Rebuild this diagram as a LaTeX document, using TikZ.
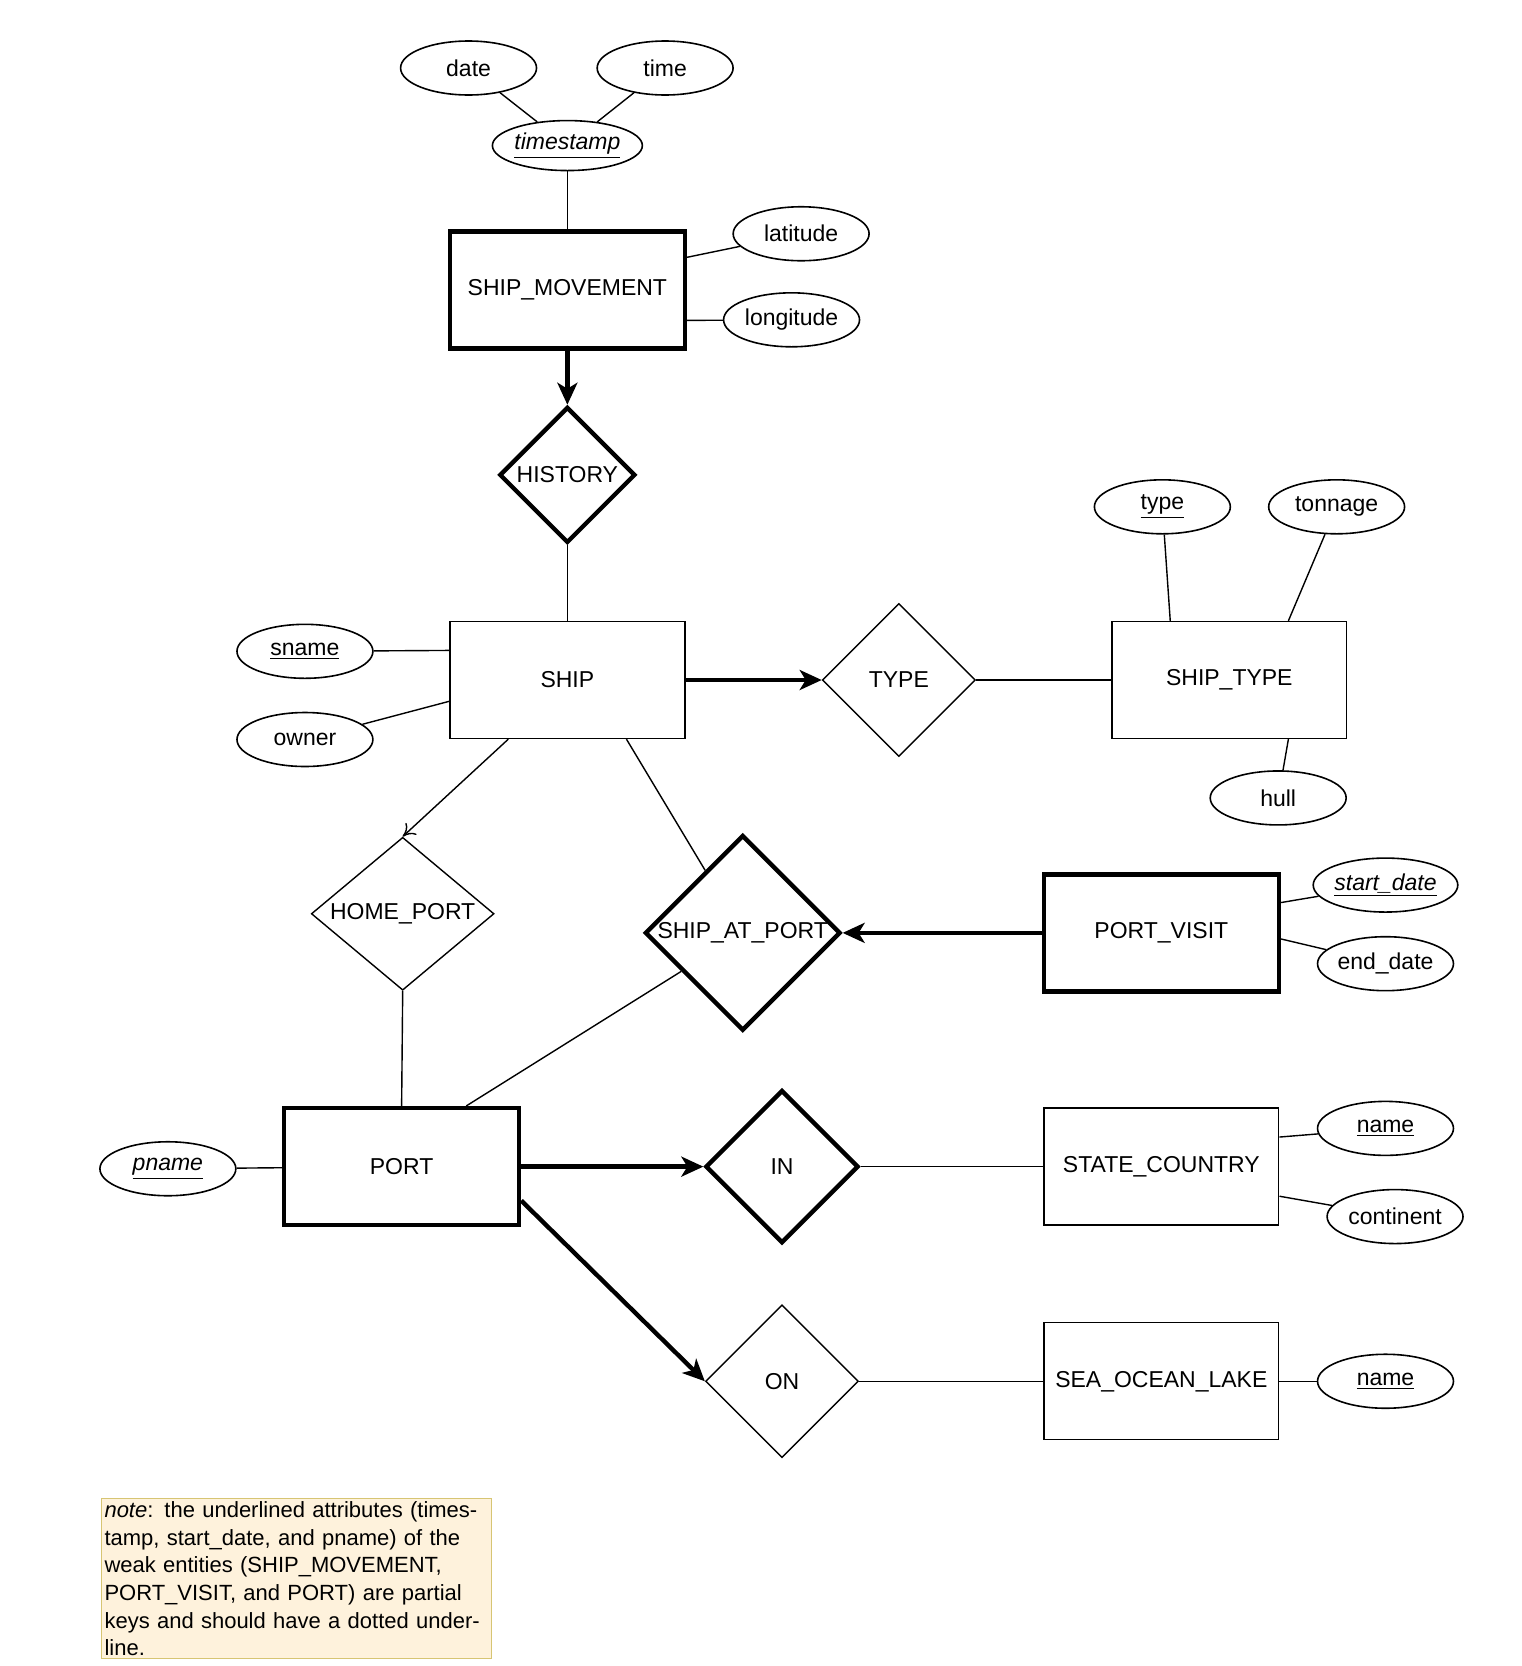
\documentclass[tikz,border=0pt]{standalone}
\usepackage{fontspec}
\setmainfont{Liberation Sans}
\usetikzlibrary{shapes.geometric,arrows.meta,calc}
\begin{document}
\begin{tikzpicture}[x=0.5315pt,y=-0.5315pt,
  every node/.style={font=\fontsize{11.5}{13}\selectfont},
  attr/.style={ellipse,draw,line width=0.8pt,minimum width=68pt,minimum height=27pt,inner sep=0pt},
  ent/.style={rectangle,draw,line width=0.7pt,minimum width=117.5pt,minimum height=58.5pt,inner sep=0pt},
  weak/.style={ent,line width=2.2pt},
  rel/.style={diamond,draw,line width=0.7pt,inner sep=0pt},
  wrel/.style={rel,line width=2.2pt},
  ln/.style={line width=0.7pt},
  thk/.style={line width=2.2pt,-{Stealth[length=11pt,width=10pt,inset=3pt]}}]
\useasboundingbox (0,0) rectangle (1432,1568);
% attributes
\node[attr] (date) at (441,64) {date};
\node[attr] (time) at (626,64) {time};
\node[attr,minimum height=25pt] (ts) at (534,137) {\textit{\underline{timestamp}}};
\node[attr] (lat) at (754,220) {latitude};
\node[attr] (lon) at (745,301) {longitude};
\node[attr] (sname) at (287,613) {\underline{sname}};
\node[attr] (owner) at (287,696) {owner};
\node[attr] (type) at (1094,477) {\underline{type}};
\node[attr] (ton) at (1258,477) {tonnage};
\node[attr] (hull) at (1203,751) {hull};
\node[attr] (sd) at (1304,833) {\textit{\underline{start\_date}}};
\node[attr] (ed) at (1304,907) {end\_date};
\node[attr] (pname) at (158,1100) {\textit{\underline{pname}}};
\node[attr] (name1) at (1304,1062) {\underline{name}};
\node[attr] (cont) at (1313,1145) {continent};
\node[attr] (name2) at (1304,1300) {\underline{name}};
% entities
\node[weak] (sm) at (534,273) {SHIP\_MOVEMENT};
\node[ent] (ship) at (534,640) {SHIP};
\node[ent] (st) at (1157,640) {SHIP\_TYPE};
\node[weak] (pv) at (1093,878) {PORT\_VISIT};
\node[weak] (port) at (378,1098) {PORT};
\node[ent] (sc) at (1093,1098) {STATE\_COUNTRY};
\node[ent] (sol) at (1093,1300) {SEA\_OCEAN\_LAKE};
% relationships
\node[wrel,minimum width=68pt,minimum height=68pt] (hist) at (534,447) {};
\node at (hist) {HISTORY};
\node[rel,minimum width=76.5pt,minimum height=76.5pt] (tr) at (846,640) {};
\node at (tr) {TYPE};
\node[rel,minimum width=91.4pt,minimum height=76.5pt] (hp) at (379,860) {};
\node at (hp) {HOME\_PORT};
\node[wrel,minimum width=97.8pt,minimum height=97.8pt] (sap) at (699,878) {};
\node at (sap) {SHIP\_AT\_PORT};
\node[wrel,minimum width=76.5pt,minimum height=76.5pt] (in) at (736,1098) {};
\node at (in) {IN};
\node[rel,minimum width=76.5pt,minimum height=76.5pt] (on) at (736,1300) {};
\node at (on) {ON};
% note
\node[draw=black!25!yellow!60!brown!70,fill=yellow!25!orange!12!white,line width=0.6pt,anchor=north west,inner sep=1.5pt,
  text width=192pt,align=left,font=\fontsize{11}{13.8}\selectfont] (note) at (95,1410)
  {\textit{note}: the underlined attributes (timestamp, start\_date, and pname) of the weak entities (SHIP\_MOVEMENT, PORT\_VISIT, and PORT) are partial keys and should have a dotted underline.};
% connectors
\draw[ln] (date) -- (ts);
\draw[ln] (time) -- (ts);
\draw[ln] (ts) -- (sm);
\draw[ln] ($(sm.north east)!0.23!(sm.south east)$) -- (lat);
\draw[ln] ($(sm.north east)!0.75!(sm.south east)$) -- (lon);
\draw[thk] (sm) -- (hist);
\draw[ln] (hist) -- (ship);
\draw[ln] (sname) -- ($(ship.north west)!0.25!(ship.south west)$);
\draw[ln] (owner) -- ($(ship.north west)!0.68!(ship.south west)$);
\draw[thk] (ship) -- (tr);
\draw[ln] (tr) -- (st);
\draw[ln] (type) -- ($(st.north west)!0.25!(st.north east)$);
\draw[ln] (ton) -- ($(st.north west)!0.75!(st.north east)$);
\draw[ln] (hull) -- ($(st.south west)!0.75!(st.south east)$);
\draw[ln,-{To[length=6pt,width=8pt]}] ($(ship.south west)!0.25!(ship.south east)$) -- (hp.north);
\draw[ln] ($(ship.south west)!0.75!(ship.south east)$) -- (sap);
\draw[thk] (pv) -- (sap.east);
\draw[ln] ($(pv.north east)!0.25!(pv.south east)$) -- (sd);
\draw[ln] ($(pv.north east)!0.55!(pv.south east)$) -- (ed);
\draw[ln] (hp.south) -- (port.north);
\draw[ln] (sap) -- ($(port.north west)!0.77!(port.north east)$);
\draw[ln] (pname) -- (port);
\draw[thk] (port) -- (in.west);
\draw[ln] (in) -- (sc);
\draw[ln] ($(sc.north east)!0.25!(sc.south east)$) -- (name1);
\draw[ln] ($(sc.north east)!0.75!(sc.south east)$) -- (cont);
\draw[thk] ($(port.north east)!0.78!(port.south east)$) -- (on.west);
\draw[ln] (on) -- (sol);
\draw[ln] (sol) -- (name2);
\end{tikzpicture}
\end{document}
